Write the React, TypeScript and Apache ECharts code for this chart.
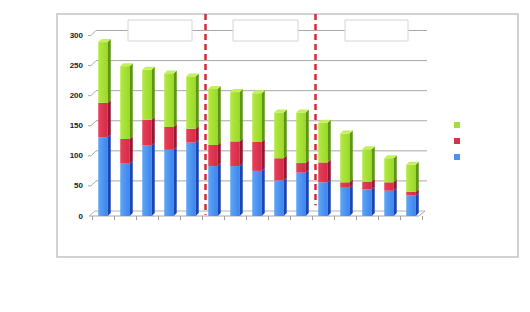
import React, { useEffect, useRef } from "react";
import * as echarts from "echarts";

const categories = ["1", "2", "3", "4", "5", "6", "7", "8", "9", "10", "11", "12", "13", "14", "15"];
const blueValues = [131, 87, 117, 110, 122, 83, 83, 75, 59, 72, 56, 47, 44, 42, 34];
const redValues = [57, 41, 43, 38, 23, 35, 41, 48, 37, 16, 33, 9, 13, 14, 6];
const greenValues = [101, 121, 83, 89, 87, 93, 82, 81, 76, 84, 66, 81, 54, 40, 45];
const seriesNames = ["Series 1", "Series 2", "Series 3"];
const yTicks = [0, 50, 100, 150, 200, 250, 300];
const dividerAfter = [4, 9];
const dividerBottom = [2, 18];

const BAR_W = 9.5;
const DEPTH = 3;
const WALL_DX = 5;
const WALL_DY = 5;

function stackData(lower: number[][], values: number[]) {
  return values.map((v, i) => {
    const base = lower.reduce((s, arr) => s + arr[i], 0);
    return [i, base, base + v];
  });
}

function makeBarRender(front: any, side: string, cap: string, withCap: boolean) {
  return (params: any, api: any) => {
    const i = api.value(0);
    const b = api.value(1);
    const t = api.value(2);
    const p0 = api.coord([i, b]);
    const p1 = api.coord([i, t]);
    const xl = p0[0] - BAR_W / 2;
    const xr = p0[0] + BAR_W / 2;
    const children: any[] = [
      {
        type: "rect",
        shape: { x: xl, y: p1[1], width: BAR_W, height: p0[1] - p1[1] },
        style: { fill: front },
      },
      {
        type: "polygon",
        shape: {
          points: [
            [xr, p0[1]],
            [xr, p1[1]],
            [xr + DEPTH, p1[1] - DEPTH],
            [xr + DEPTH, p0[1] - DEPTH],
          ],
        },
        style: { fill: side },
      },
    ];
    if (withCap) {
      children.push({
        type: "polygon",
        shape: {
          points: [
            [xl, p1[1]],
            [xl + DEPTH, p1[1] - DEPTH],
            [xr + DEPTH, p1[1] - DEPTH],
            [xr, p1[1]],
          ],
        },
        style: { fill: cap },
      });
    }
    return { type: "group", children };
  };
}

export default function App() {
  const ref = useRef<HTMLDivElement>(null);

  useEffect(() => {
    if (!ref.current) return;
    const chart = echarts.init(ref.current, undefined, { renderer: "svg" });

    const blueData = stackData([], blueValues);
    const redData = stackData([blueValues], redValues);
    const greenData = stackData([blueValues, redValues], greenValues);

    const grad = (a: string, b: string) =>
      new echarts.graphic.LinearGradient(0, 0, 1, 0, [
        { offset: 0, color: a },
        { offset: 1, color: b },
      ]);

    const option: any = {
      animation: false,
      backgroundColor: "#ffffff",
      grid: { left: 92, right: 108, top: 35.5, bottom: 96 },
      legend: {
        orient: "vertical",
        left: 449,
        top: 117,
        icon: "rect",
        itemWidth: 6,
        itemHeight: 6,
        itemGap: 10,
        formatter: () => "",
        textStyle: { fontSize: 6, lineHeight: 6 },
        data: [seriesNames[2], seriesNames[1], seriesNames[0]],
        selectedMode: false,
      },
      xAxis: {
        type: "category",
        data: categories,
        axisLine: { show: false },
        axisTick: { show: true, length: 4, lineStyle: { color: "#9a9a9a" } },
        axisLabel: { show: false },
        splitLine: { show: false },
      },
      yAxis: {
        type: "value",
        min: 0,
        max: 300,
        interval: 50,
        axisLine: { show: false },
        axisTick: { show: false },
        splitLine: { show: false },
        axisLabel: {
          fontSize: 8,
          fontWeight: "bold",
          color: "#222",
          margin: 9,
          fontFamily: "Liberation Sans",
        },
      },
      graphic: [
        {
          type: "rect",
          shape: { x: 57, y: 14, width: 461, height: 243 },
          style: { fill: "none", stroke: "#c4c4c4", lineWidth: 1.5 },
          z: 0,
          silent: true,
        },
        ...[
          [128, 20, 64, 21],
          [233, 20, 65, 21],
          [345, 20, 63, 21],
        ].map((r) => ({
          type: "rect",
          shape: { x: r[0], y: r[1], width: r[2], height: r[3] },
          style: { fill: "#ffffff", stroke: "#d6d6d6", lineWidth: 1 },
          z: 100,
          silent: true,
        })),
      ],
      series: [
        {
          name: "wall",
          type: "custom",
          silent: true,
          z: 1,
          encode: { x: 0, y: 1 },
          data: yTicks.map((v) => [0, v]),
          renderItem: (params: any, api: any) => {
            const v = api.value(1);
            const cs = params.coordSys;
            const p = api.coord([0, v]);
            const y = p[1];
            const xL = cs.x;
            const xR = cs.x + cs.width;
            const children: any[] = [];
            if (v === 0) {
              children.push({
                type: "polyline",
                shape: {
                  points: [
                    [xL - 3, y],
                    [xR - 3, y],
                    [xR - 3 + WALL_DX + 1, y - WALL_DY],
                  ],
                },
                style: { stroke: "#a8a8a8", lineWidth: 1, fill: "none" },
              });
              children.push({
                type: "polyline",
                shape: {
                  points: [
                    [xL - 3, y],
                    [xL - 3 + WALL_DX + 1, y - WALL_DY],
                    [xR - 3 + WALL_DX + 1, y - WALL_DY],
                  ],
                },
                style: { stroke: "#b4b4b4", lineWidth: 1, fill: "none" },
              });
            } else {
              children.push({
                type: "polyline",
                shape: {
                  points: [
                    [xL - 4, y],
                    [xL - 1, y],
                    [xL - 1 + WALL_DX, y - WALL_DY],
                    [xR + WALL_DX, y - WALL_DY],
                  ],
                },
                style: { stroke: "#a8a8a8", lineWidth: 1, fill: "none" },
              });
            }
            return { type: "group", children };
          },
        },
        {
          name: seriesNames[0],
          type: "custom",
          z: 2,
          itemStyle: { color: "#4b92f0" },
          encode: { x: 0, y: [1, 2] },
          data: blueData,
          renderItem: makeBarRender(grad("#5ea6f8", "#3c84ea"), "#1c44b4", "#7ab6fa", false),
        },
        {
          name: seriesNames[1],
          type: "custom",
          z: 2,
          itemStyle: { color: "#d9304e" },
          encode: { x: 0, y: [1, 2] },
          data: redData,
          renderItem: makeBarRender(grad("#e8405a", "#d42a46"), "#961532", "#f07080", false),
        },
        {
          name: seriesNames[2],
          type: "custom",
          z: 2,
          itemStyle: { color: "#a6dc3c" },
          encode: { x: 0, y: [1, 2] },
          data: greenData,
          renderItem: makeBarRender(grad("#b2ea40", "#9bd82c"), "#5c9612", "#c4f05a", true),
        },
        {
          name: "dividers",
          type: "custom",
          silent: true,
          z: 5,
          encode: { x: 0, y: 1 },
          data: dividerAfter.map((k, j) => [k, dividerBottom[j]]),
          renderItem: (params: any, api: any) => {
            const k = api.value(0);
            const a = api.coord([k, api.value(1)]);
            const b = api.coord([k + 1, api.value(1)]);
            const x = (a[0] + b[0]) / 2 + 3.5;
            return {
              type: "line",
              shape: { x1: x, y1: 14, x2: x, y2: a[1] },
              style: { stroke: "#d6283a", lineWidth: 2.5, lineDash: [6, 4] },
            };
          },
        },
      ],
    };

    chart.setOption(option);
    return () => chart.dispose();
  }, []);

  return (
    <div
      ref={ref}
      style={{ position: "fixed", left: 0, top: 0, width: 530, height: 312 }}
    />
  );
}
